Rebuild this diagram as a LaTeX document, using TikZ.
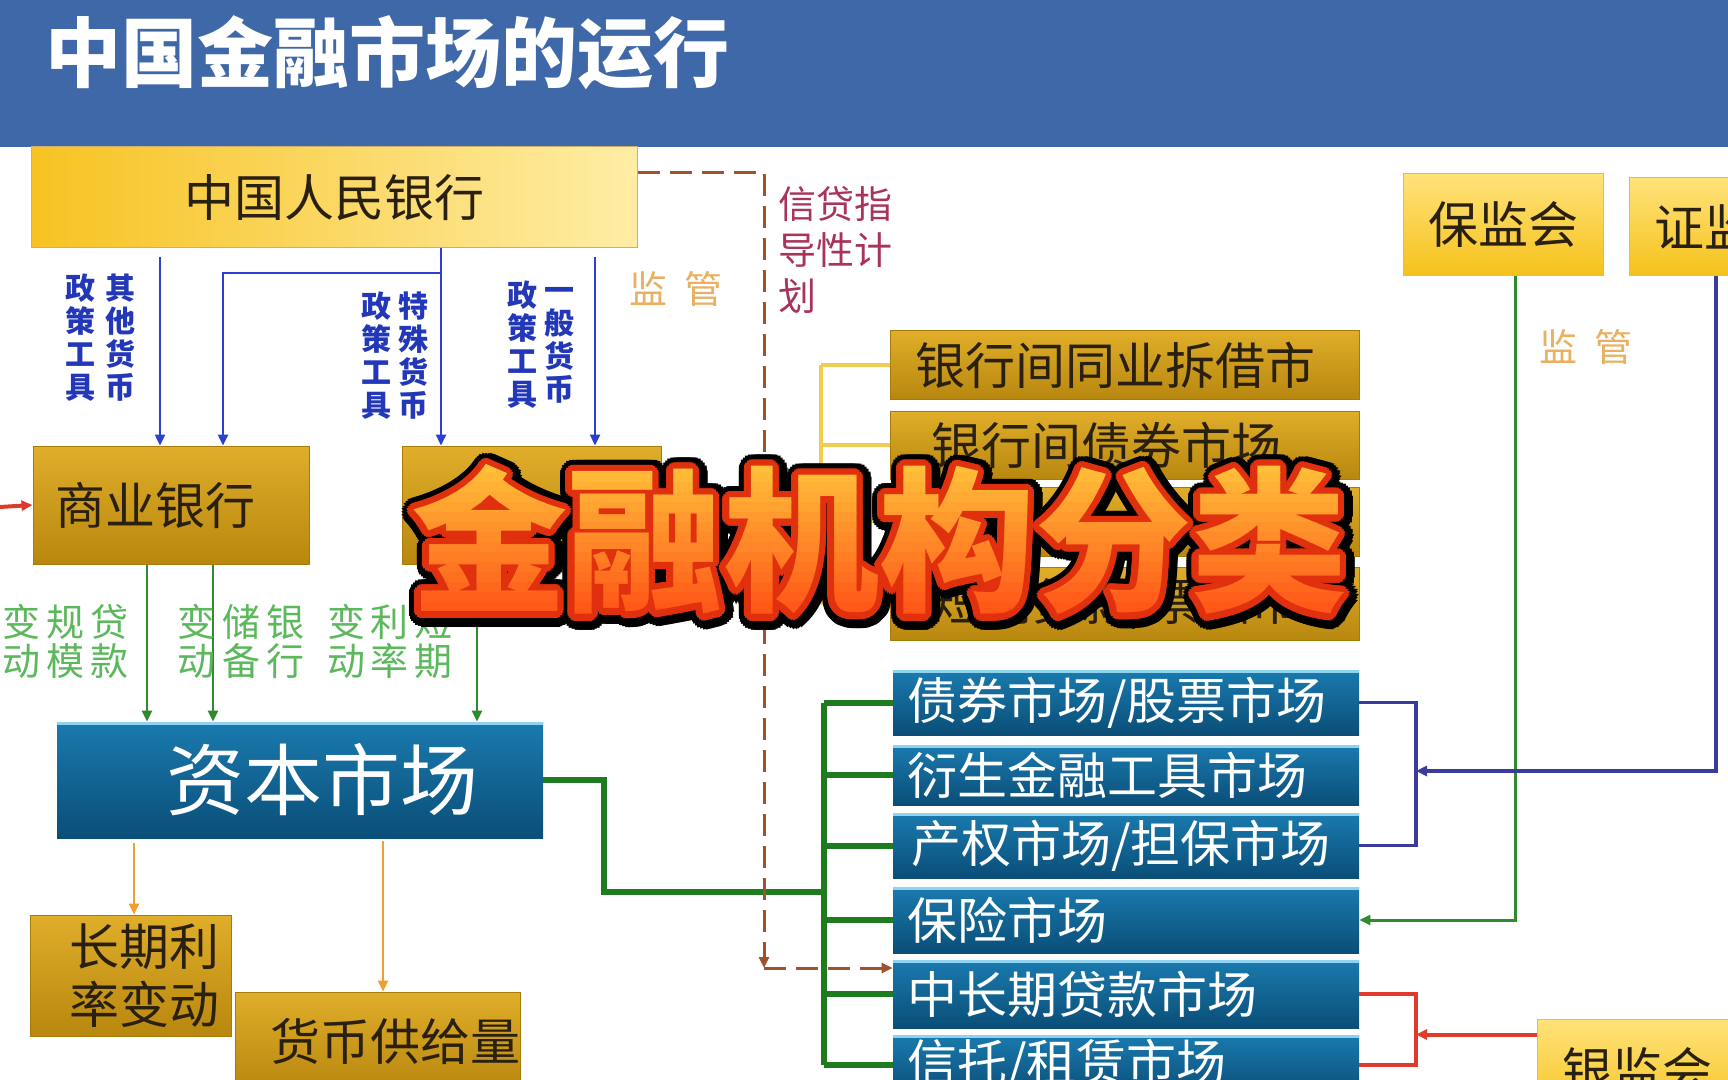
\documentclass[tikz,border=0pt]{standalone}
\usepackage{fontspec}
\setmainfont{Noto Sans CJK SC}
\usetikzlibrary{arrows.meta}
\definecolor{titlebg}{HTML}{3F68A8}
\definecolor{pbL}{HTML}{F7C322}
\definecolor{pbR}{HTML}{FFEDA6}
\definecolor{goldT}{HTML}{E0AE2A}
\definecolor{goldB}{HTML}{B8870E}
\definecolor{goldE}{HTML}{A87A08}
\definecolor{lyT}{HTML}{FFE27A}
\definecolor{lyB}{HTML}{F5C21B}
\definecolor{boxtext}{HTML}{2A2010}
\definecolor{mT}{HTML}{1A7AAE}
\definecolor{mB}{HTML}{0A4E78}
\definecolor{mTop}{HTML}{8FD3EE}
\definecolor{vblue}{HTML}{2338B8}
\definecolor{barc}{HTML}{2B3FD0}
\definecolor{glabc}{HTML}{5CB85C}
\definecolor{garc}{HTML}{2E8B2E}
\definecolor{gthk}{HTML}{1E7B1E}
\definecolor{oarc}{HTML}{F0A030}
\definecolor{jgc}{HTML}{E8B060}
\definecolor{xdc}{HTML}{A8345A}
\definecolor{dashc}{HTML}{A0522D}
\definecolor{purc}{HTML}{3B3B9B}
\definecolor{redc}{HTML}{E03A2A}
\definecolor{ybrc}{HTML}{F2CC50}
\definecolor{ovtop}{HTML}{FFC83C}
\definecolor{ovbot}{HTML}{FF4A14}
\definecolor{ovred}{HTML}{E0300E}
\begin{document}
\begin{tikzpicture}[x=0.5pt,y=-0.5pt,
  every node/.style={inner sep=0pt},
  lightbox/.style={draw=goldE!60, line width=0.5pt, left color=pbL, right color=pbR, text=boxtext},
  goldbox/.style={draw=goldE, line width=0.5pt, top color=goldT, bottom color=goldB, text=boxtext},
  ybox/.style={draw=goldE!50, line width=0.5pt, top color=lyT, bottom color=lyB, text=boxtext},
  mbox/.style={top color=mT, bottom color=mB, text=white,
    path picture={\draw[mTop, line width=2.5pt] (path picture bounding box.north west) -- (path picture bounding box.north east);}},
  fbig/.style={font=\fontsize{25pt}{29pt}\selectfont},
  vlab/.style={text=vblue, font=\bfseries\fontsize{15pt}{16.5pt}\selectfont, align=center},
  glab/.style={text=glabc, font=\fontsize{19pt}{19.5pt}\selectfont, align=center},
  jglab/.style={text=jgc, font=\fontsize{19pt}{22pt}\selectfont},
  tip/.style={-{Triangle[length=5.5pt,width=5pt]}},
  barrow/.style={barc, line width=1.2pt, tip},
  garrow/.style={garc, line width=1.2pt, tip},
  oarrow/.style={oarc, line width=1.2pt, tip},
  gthick/.style={gthk, line width=3pt},
  dline/.style={dashc, line width=1.5pt, dash pattern=on 11pt off 5pt},
  pline/.style={purc, line width=1.6pt},
  rline/.style={redc, line width=2pt},
  gline/.style={garc, line width=1.5pt},
  yline/.style={ybrc, line width=1.6pt},
  ovl/.style={font=\bfseries\fontsize{78pt}{78pt}\selectfont}
]
\clip (0,0) rectangle (1728,1080);
\fill[white] (0,0) rectangle (1728,1080);
\fill[titlebg] (0,0) rectangle (1728,147);
\node[anchor=west, text=white, font=\bfseries\fontsize{38pt}{38pt}\selectfont] (title) at (45,53) {中国金融市场的运行};

% left boxes
\node[lightbox, fbig, minimum width=303pt, minimum height=50.5pt] (pboc) at (334,197.5) {中国人民银行};
\node[goldbox, fbig, minimum height=59pt, text width=116pt, inner xsep=11pt, align=left] (cb) at (171,505) {商业银行};
\node[goldbox, minimum width=129.5pt, minimum height=59pt] (box2) at (531.5,505) {};
\node[mbox, minimum width=243pt, minimum height=58pt, font=\fontsize{39pt}{39pt}\selectfont] (cap) at (300,780) {\hspace*{22pt}资本市场};
\node[goldbox, fbig, minimum width=100.5pt, minimum height=60.5pt, align=center] (lr) at (130.5,975.5) {\hspace*{14pt}长期利\\\hspace*{14pt}率变动};
\node[goldbox, fbig, minimum width=129.5pt, minimum height=49pt] (ms) at (377.5,1041) {\hspace*{17.5pt}货币供给量};

% gold market boxes
\node[goldbox, fbig, minimum height=34pt, text width=209.5pt, inner xsep=12.5pt, align=left] (g1) at (1124.5,365) {银行间同业拆借市};
\node[goldbox, fbig, minimum height=34pt, text width=209.5pt, inner xsep=12.5pt, align=left] (g2) at (1124.5,445) {\hspace*{8pt}银行间债券市场};
\node[goldbox, fbig, minimum height=34.5pt, text width=209.5pt, inner xsep=12.5pt, align=left] (g3) at (1124.5,521.5) {};
\node[goldbox, fbig, minimum height=36.5pt, text width=209.5pt, inner xsep=12.5pt, align=left] (g4) at (1124.5,603.5) {\hspace*{8pt}短期贷款/票据市场};

% blue market boxes
\node[mbox, fbig, minimum height=32.5pt, text width=219pt, inner xsep=7pt, align=left] (m1) at (1126,702.5) {债券市场/股票市场};
\node[mbox, fbig, minimum height=30pt, text width=219pt, inner xsep=7pt, align=left] (m2) at (1126,775) {衍生金融工具市场};
\node[mbox, fbig, minimum height=32.5pt, text width=219pt, inner xsep=7pt, align=left] (m3) at (1126,845.5) {\hspace*{2pt}产权市场/担保市场};
\node[mbox, fbig, minimum height=33pt, text width=219pt, inner xsep=7pt, align=left] (m4) at (1126,920) {保险市场};
\node[mbox, fbig, minimum height=34pt, text width=219pt, inner xsep=7pt, align=left] (m5) at (1126,994) {中长期贷款市场};
\node[mbox, fbig, minimum height=30pt, text width=219pt, inner xsep=7pt, align=left] (m6) at (1126,1065) {信托/租赁市场};

% regulators
\node[ybox, fbig, minimum width=100pt, minimum height=51pt] (bxh) at (1503,225) {保监会};
\node[ybox, fbig, minimum width=100pt, minimum height=49pt] (zjh) at (1729,227) {证监会};
\node[ybox, fbig, minimum width=100pt, minimum height=51pt] (yjh) at (1637,1070) {银监会};

% blue policy arrows
\coordinate (xa) at (160,0); \coordinate (xb) at (441,0);
\coordinate (xc) at (595,0); \coordinate (xd) at (223,0);
\coordinate (jb) at (441,273);
\path (pboc.south -| xa) ++(0,9) coordinate (a1s);
\path (pboc.south -| xc) ++(0,9) coordinate (a3s);
\draw[barrow] (a1s) -- (cb.north -| xa);
\draw[barrow] (pboc.south -| xb) -- (box2.north -| xb);
\draw[barrow] (jb) -| (cb.north -| xd);
\draw[barrow] (a3s) -- (box2.north -| xc);

\node[vlab] (v1a) at (80,338) {政\\策\\工\\具};
\node[vlab] (v1b) at (120,338) {其\\他\\货\\币};
\node[vlab] (v2a) at (376,356) {政\\策\\工\\具};
\node[vlab] (v2b) at (413,356) {特\\殊\\货\\币};
\node[vlab] (v3a) at (522,345) {政\\策\\工\\具};
\node[vlab] (v3b) at (559,345) {一\\般\\货\\币};

\node[jglab] (jg1) at (676,289) {监\hspace{9pt}管};
\node[jglab] (jg2) at (1586,347) {监\hspace{9pt}管};
\node[anchor=north west, text=xdc, font=\fontsize{19pt}{23pt}\selectfont, align=left] (xd) at (778,186) {信贷指\\导性计\\划};

% green arrows to capital market
\coordinate (xe) at (147,0); \coordinate (xf) at (213,0); \coordinate (xg) at (477,0);
\draw[garrow] (cb.south -| xe) -- (cap.north -| xe);
\draw[garrow] (cb.south -| xf) -- (cap.north -| xf);
\draw[garrow] (box2.south -| xg) -- (cap.north -| xg);
\node[glab] (gl1) at (66,641) {变\hspace{3pt}规\hspace{3pt}贷\\动\hspace{3pt}模\hspace{3pt}款};
\node[glab] (gl2) at (241,641) {变\hspace{4pt}储\hspace{3pt}银\\动\hspace{4pt}备\hspace{3pt}行};
\node[glab] (gl3) at (390,641) {变\hspace{3pt}利\hspace{3pt}短\\动\hspace{3pt}率\hspace{3pt}期};

% orange arrows
\coordinate (xh) at (134,0); \coordinate (xi) at (383,0);
\path (cap.south -| xh) ++(0,5) coordinate (o1s);
\path (cap.south -| xi) ++(0,3) coordinate (o2s);
\draw[oarrow] (o1s) -- (lr.north -| xh);
\draw[oarrow] (o2s) -- (ms.north -| xi);

% red arrow into commercial bank
\coordinate (rin) at (0,507);
\draw[rline, tip] (rin) -- (cb.west);

% yellow bracket
\coordinate (ybr) at (821,0);
\draw[yline] (g1.west -| ybr) -- (g4.west -| ybr);
\foreach \g in {g1,g2,g3,g4} \draw[yline] (\g.west -| ybr) -- (\g.west);

% green bus
\coordinate (bus) at (824,0); \coordinate (busj) at (824,892);
\draw[gthick] (cap.east) -- ++(61,0) |- (busj);
\draw[gthick] (m1.west -| bus) -- (m6.west -| bus);
\foreach \m in {m1,m2,m3,m4,m5,m6} \draw[gthick] (\m.west -| bus) -- (\m.west);

% dashed credit guidance line
\path (pboc.north east) ++(0,26) coordinate (ds);
\coordinate (dc) at (764,968);
\draw[dline, tip] (ds) -| (dc);
\draw[dline, tip] (dc) -- (dc -| m5.west);

% right side regulation
\path (bxh.south) ++(12,0) coordinate (bs);
\draw[gline, tip] (bs) |- (m4.east);
\coordinate (pb) at (1416,0); \coordinate (pj) at (1416,771);
\path (zjh.south) ++(-13,0) coordinate (zs);
\draw[pline] (m1.east) -| (pb |- m3.east) -- (m3.east);
\draw[pline, tip] (zs) |- (pj);
\coordinate (rb) at (1416,0);
\draw[rline] (m5.east) -| (rb |- m6.east) -- (m6.east);
\path (yjh.north west) ++(0,16) coordinate (ys);
\draw[rline, tip] (ys) -- (ys -| rb);

% overlay title
\foreach \a in {0,12,...,348}
  \node[ovl, text=black, xshift={6.8pt*cos(\a)+0.8pt}, yshift={6.8pt*sin(\a)-0.8pt}] (ovk\a) at (879,540) {金融机构分类};
\foreach \a in {0,18,...,342}
  \node[ovl, text=ovred, xshift={3.2pt*cos(\a)}, yshift={3.2pt*sin(\a)}] (ovr\a) at (879,540) {金融机构分类};
\foreach \i in {0,...,17} {
  \pgfmathsetmacro\ya{452+10*\i}
  \pgfmathsetmacro\yb{\ya+10.6}
  \pgfmathtruncatemacro\p{100-\i*100/17}
  \begin{scope}
    \clip (370,\ya) rectangle (1390,\yb);
    \node[ovl, text=ovtop!\p!ovbot] (ovf\i) at (879,540) {金融机构分类};
  \end{scope}
}
\end{tikzpicture}
\end{document}
